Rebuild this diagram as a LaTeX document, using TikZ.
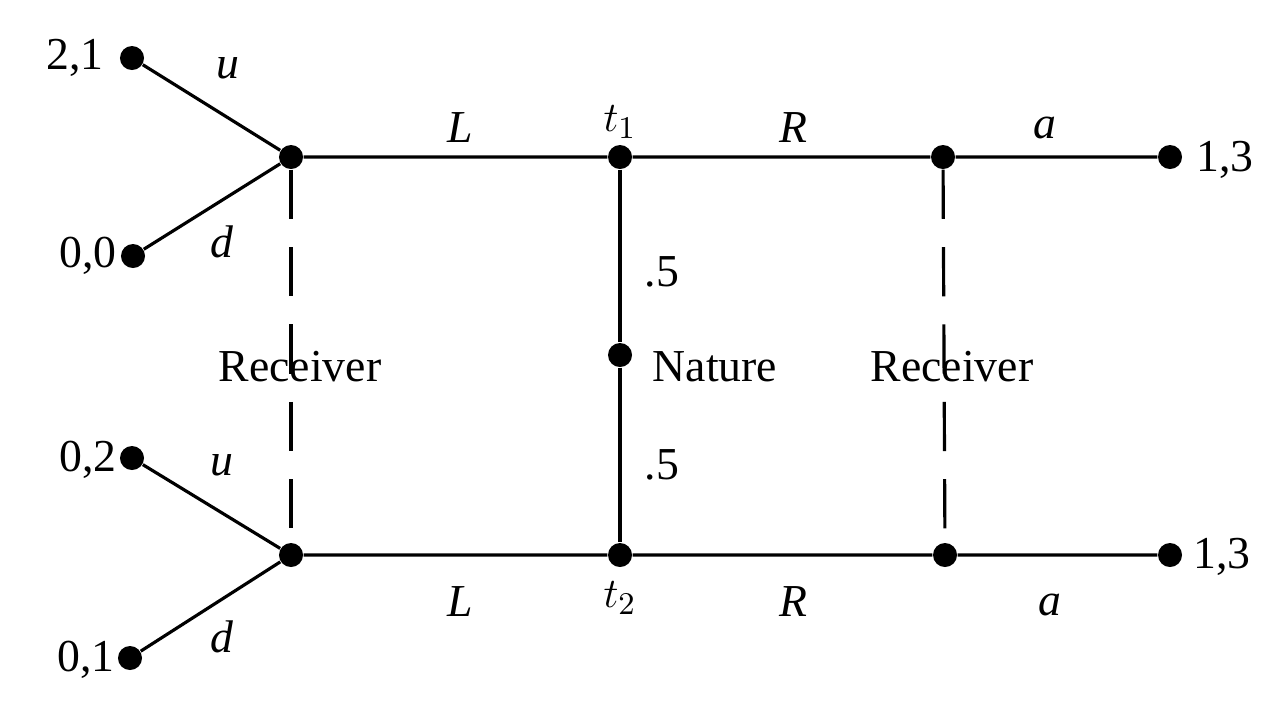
\documentclass[tikz,border=0pt]{standalone}
\usepackage{fontspec}
\setmainfont{Liberation Serif}
\begin{document}
\begin{tikzpicture}[x=0.01cm,y=-0.01cm,
  dot/.style={circle,fill=black,inner sep=0pt,minimum size=0.24cm},
  edge/.style={line width=0.9pt},
  lab/.style={font=\fontsize{13}{15}\selectfont},
  every node/.style={lab}]
\useasboundingbox (0,0) rectangle (1286,720);
\node[dot] (u1) at (132,58) {};
\node[dot] (d1) at (133,256) {};
\node[dot] (r1) at (291,157) {};
\node[dot] (t1) at (620,157) {};
\node[dot] (q1) at (943,157) {};
\node[dot] (e1) at (1170,157) {};
\node[dot] (n) at (620,355) {};
\node[dot] (u2) at (132,458) {};
\node[dot] (d2) at (130,658) {};
\node[dot] (r2) at (291,555) {};
\node[dot] (t2) at (620,555) {};
\node[dot] (q2) at (945,555) {};
\node[dot] (e2) at (1170,555) {};
\draw[edge] (u1)--(r1) (d1)--(r1) (r1)--(t1)--(q1)--(e1);
\draw[edge] (u2)--(r2) (d2)--(r2) (r2)--(t2)--(q2)--(e2);
\draw[edge] (t1)--(n)--(t2);
\draw[edge,dash pattern=on 14pt off 8pt] (r1)--(r2);
\draw[edge,dash pattern=on 14pt off 8pt] (q1)--(q2);
\node (l1) at (75,58) {2,1};
\node (l2) at (88,256) {0,0};
\node (l3) at (88,460) {0,2};
\node (l4) at (86,660) {0,1};
\node (l5) at (1225,160) {1,3};
\node (l6) at (1222,557) {1,3};
\node (a1) at (228,68) {\itshape u};
\node (a2) at (222,242) {\itshape d};
\node (a3) at (222,465) {\itshape u};
\node (a4) at (222,637) {\itshape d};
\node (b1) at (460,128) {\itshape L};
\node (b2) at (620,122) {$t_1$};
\node (b3) at (793,128) {\itshape R};
\node (b4) at (1045,128) {\itshape a};
\node (c1) at (460,602) {\itshape L};
\node (c2) at (620,598) {$t_2$};
\node (c3) at (793,602) {\itshape R};
\node (c4) at (1050,605) {\itshape a};
\node (p1) at (662,272) {.5};
\node (p2) at (662,465) {.5};
\node (nl) at (715,367) {Nature};
\node (rl1) at (300,367) {Receiver};
\node (rl2) at (952,367) {Receiver};
\end{tikzpicture}
\end{document}
